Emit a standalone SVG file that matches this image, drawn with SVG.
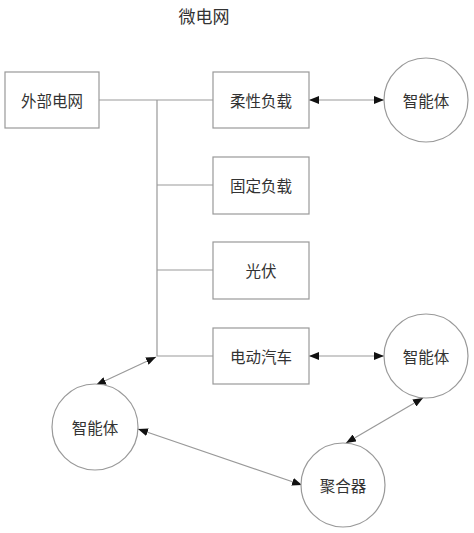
<svg xmlns="http://www.w3.org/2000/svg" width="474" height="533" viewBox="0 0 474 533">
<defs>
<marker id="ah" viewBox="0 0 10 8" refX="10" refY="4" markerWidth="10" markerHeight="8" markerUnits="userSpaceOnUse" orient="auto-start-reverse">
<path d="M0,0 L10,4 L0,8 Z" fill="#111"/>
</marker>
<style>
.box{fill:#fff;stroke:#999;stroke-width:1.2}
.ln{fill:none;stroke:#999;stroke-width:1.2}
.t{font-family:"Noto Sans CJK SC","Liberation Serif",serif;font-size:15.5px;fill:#333;text-anchor:middle;dominant-baseline:central}
</style>
</defs>
<rect width="474" height="533" fill="#fff"/>
<text class="t" x="204" y="15" style="font-size:17px">微电网</text>
<g id="connectors">
<polyline class="ln" points="99,100 213,100"/>
<polyline class="ln" points="157,100 157,356 213,356"/>
<polyline class="ln" points="157,185 213,185"/>
<polyline class="ln" points="157,270 213,270"/>
<line class="ln" x1="309" y1="100" x2="384" y2="100" marker-start="url(#ah)" marker-end="url(#ah)"/>
<line class="ln" x1="309" y1="356" x2="384" y2="356" marker-start="url(#ah)" marker-end="url(#ah)"/>
<line class="ln" x1="156" y1="357" x2="96" y2="385" marker-start="url(#ah)" marker-end="url(#ah)"/>
<line class="ln" x1="138" y1="429" x2="302" y2="485" marker-start="url(#ah)" marker-end="url(#ah)"/>
<line class="ln" x1="423" y1="398" x2="346" y2="443" marker-start="url(#ah)" marker-end="url(#ah)"/>
</g>
<g id="grid"><rect class="box" x="5" y="72" width="94" height="56"/><text class="t" x="52" y="100">外部电网</text></g>
<g id="flex"><rect class="box" x="213" y="72" width="96" height="56"/><text class="t" x="261" y="100">柔性负载</text></g>
<g id="fixed"><rect class="box" x="213" y="157" width="96" height="57"/><text class="t" x="261" y="185">固定负载</text></g>
<g id="pv"><rect class="box" x="213" y="242" width="96" height="57"/><text class="t" x="261" y="270">光伏</text></g>
<g id="ev"><rect class="box" x="213" y="328" width="96" height="56"/><text class="t" x="261" y="356">电动汽车</text></g>
<g id="agent1"><circle class="box" cx="426" cy="100" r="42"/><text class="t" x="426" y="100">智能体</text></g>
<g id="agent2"><circle class="box" cx="426" cy="356" r="42"/><text class="t" x="426" y="356">智能体</text></g>
<g id="agent3"><circle class="box" cx="95" cy="427" r="43"/><text class="t" x="95" y="427">智能体</text></g>
<g id="aggregator"><circle class="box" cx="343" cy="485" r="42"/><text class="t" x="343" y="485">聚合器</text></g>
</svg>
